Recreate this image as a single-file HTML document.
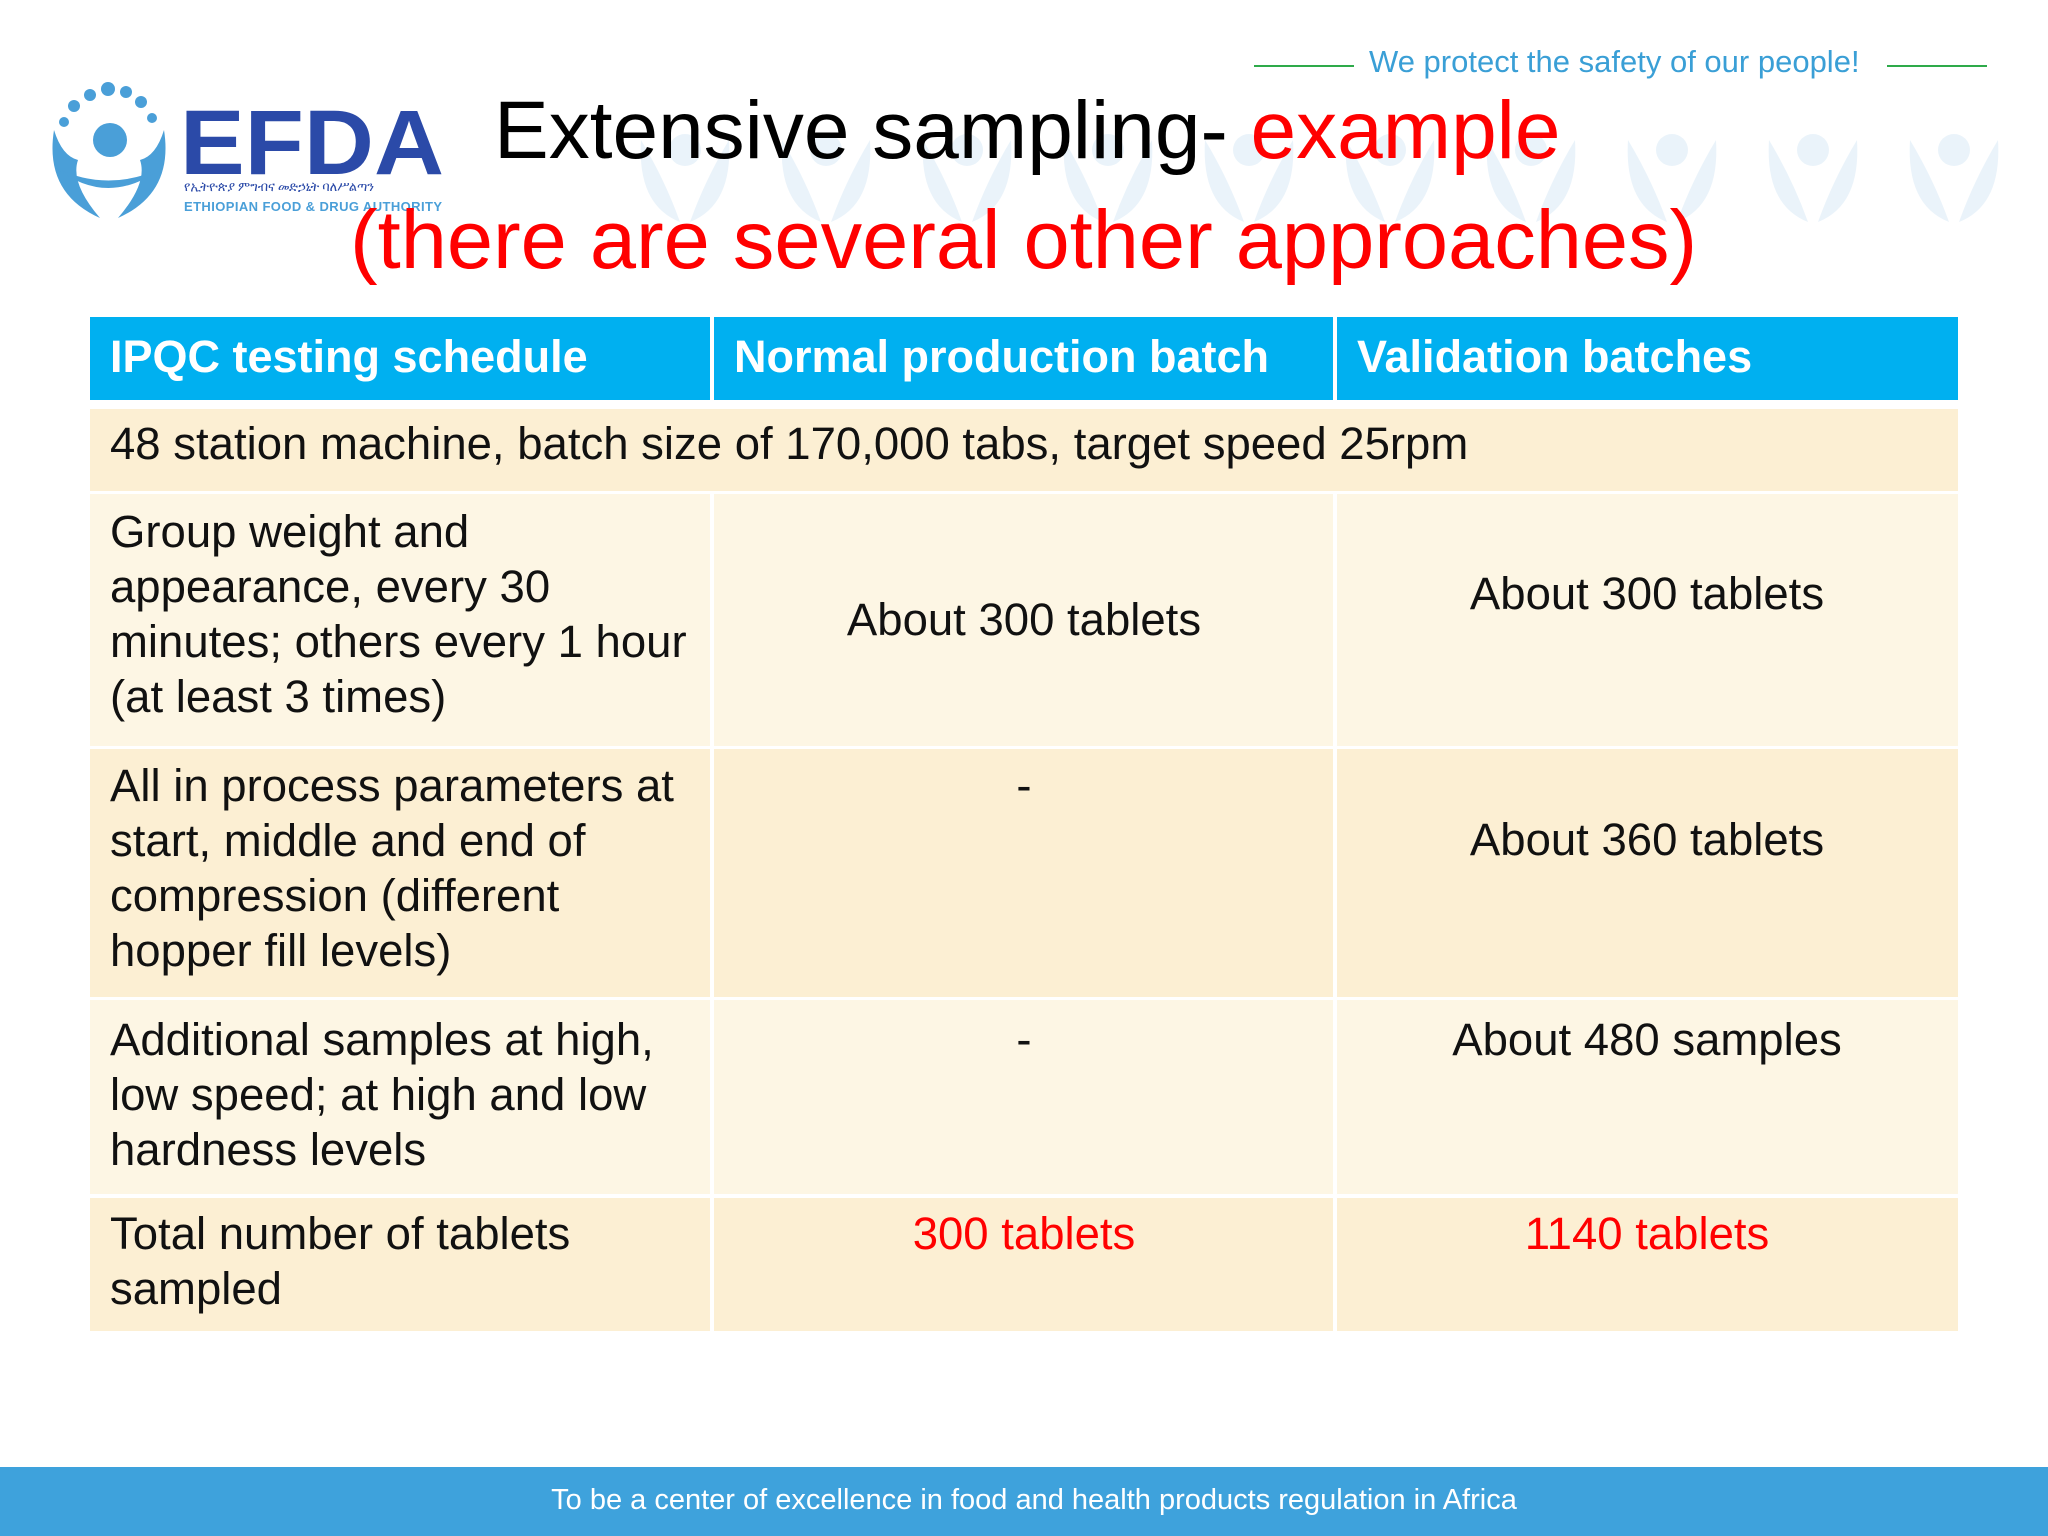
<!DOCTYPE html>
<html><head><meta charset="utf-8"><style>
body{margin:0;width:2048px;height:1536px;background:#fff;position:relative;overflow:hidden;font-family:"Liberation Sans",Arial,sans-serif}
.a{position:absolute;white-space:nowrap}
.t{font-size:45.5px;line-height:55px;color:#111}
.c{text-align:center;transform:translateX(-50%)}
.cell{position:absolute}
</style></head><body>
<div>
<svg class="a" style="left:620px;top:100px" width="1400" height="130">
<g fill="#3b8fd0" opacity="0.1">
<g transform="translate(65,0)"><circle cx="0" cy="50" r="16"/><path d="M-44 40 Q-48 105 -5 122 Q-20 80 -44 40Z"/><path d="M44 40 Q48 105 5 122 Q20 80 44 40Z"/></g>
<g transform="translate(206,0)"><circle cx="0" cy="50" r="16"/><path d="M-44 40 Q-48 105 -5 122 Q-20 80 -44 40Z"/><path d="M44 40 Q48 105 5 122 Q20 80 44 40Z"/></g>
<g transform="translate(347,0)"><circle cx="0" cy="50" r="16"/><path d="M-44 40 Q-48 105 -5 122 Q-20 80 -44 40Z"/><path d="M44 40 Q48 105 5 122 Q20 80 44 40Z"/></g>
<g transform="translate(488,0)"><circle cx="0" cy="50" r="16"/><path d="M-44 40 Q-48 105 -5 122 Q-20 80 -44 40Z"/><path d="M44 40 Q48 105 5 122 Q20 80 44 40Z"/></g>
<g transform="translate(629,0)"><circle cx="0" cy="50" r="16"/><path d="M-44 40 Q-48 105 -5 122 Q-20 80 -44 40Z"/><path d="M44 40 Q48 105 5 122 Q20 80 44 40Z"/></g>
<g transform="translate(770,0)"><circle cx="0" cy="50" r="16"/><path d="M-44 40 Q-48 105 -5 122 Q-20 80 -44 40Z"/><path d="M44 40 Q48 105 5 122 Q20 80 44 40Z"/></g>
<g transform="translate(911,0)"><circle cx="0" cy="50" r="16"/><path d="M-44 40 Q-48 105 -5 122 Q-20 80 -44 40Z"/><path d="M44 40 Q48 105 5 122 Q20 80 44 40Z"/></g>
<g transform="translate(1052,0)"><circle cx="0" cy="50" r="16"/><path d="M-44 40 Q-48 105 -5 122 Q-20 80 -44 40Z"/><path d="M44 40 Q48 105 5 122 Q20 80 44 40Z"/></g>
<g transform="translate(1193,0)"><circle cx="0" cy="50" r="16"/><path d="M-44 40 Q-48 105 -5 122 Q-20 80 -44 40Z"/><path d="M44 40 Q48 105 5 122 Q20 80 44 40Z"/></g>
<g transform="translate(1334,0)"><circle cx="0" cy="50" r="16"/><path d="M-44 40 Q-48 105 -5 122 Q-20 80 -44 40Z"/><path d="M44 40 Q48 105 5 122 Q20 80 44 40Z"/></g>
</g></svg>
</div>

<svg class="a" style="left:48px;top:78px" width="400" height="145">
<g fill="#4a9fd8">
<circle cx="16" cy="44" r="5"/><circle cx="26" cy="28" r="6"/><circle cx="42" cy="17" r="6"/><circle cx="60" cy="11" r="7"/><circle cx="78" cy="14" r="6"/><circle cx="93" cy="24" r="6"/><circle cx="104" cy="40" r="5"/>
<circle cx="62" cy="62" r="17"/>
<path d="M6 52 Q-4 115 52 140 Q22 105 30 82 Q14 78 6 52Z"/>
<path d="M116 52 Q126 115 70 140 Q100 105 92 82 Q108 78 116 52Z"/>
<path d="M8 90 Q60 115 114 90 Q60 130 8 90Z"/>
</g>
<text x="132" y="96" font-family="Liberation Sans" font-weight="bold" font-size="92" fill="#2b4aa8" textLength="264" lengthAdjust="spacingAndGlyphs">EFDA</text>
<text x="136" y="113" font-family="Noto Sans CJK SC, sans-serif" font-size="13" fill="#2b4aa8">የኢትዮጵያ ምግብና መድኃኒት ባለሥልጣን</text>
<text x="136" y="133" font-family="Liberation Sans" font-weight="bold" font-size="13" fill="#4a9fd8" textLength="258">ETHIOPIAN FOOD &amp; DRUG AUTHORITY</text>
</svg>

<div>
<div class="a" style="left:1254px;top:65px;width:100px;height:2px;background:#2eaa4a"></div>
<div class="a" style="left:1369px;top:44px;font-size:31px;color:#3a9fd6">We protect the safety of our people!</div>
<div class="a" style="left:1887px;top:65px;width:100px;height:2px;background:#2eaa4a"></div>
</div>

<div class="a" style="left:494px;top:84px;font-size:82px;color:#000">Extensive sampling- <span style="color:#ff0000">example</span></div>
<div class="a" style="left:350px;top:192px;font-size:83px;color:#ff0000">(there are several other approaches)</div>

<div>
<div class="cell" style="left:90px;top:317px;width:620px;height:83px;background:#00b0f0"></div>
<div class="cell" style="left:714px;top:317px;width:619px;height:83px;background:#00b0f0"></div>
<div class="cell" style="left:1337px;top:317px;width:621px;height:83px;background:#00b0f0"></div>
<div class="cell" style="left:90px;top:409px;width:1868px;height:82px;background:#fcefd3"></div>
<div class="cell" style="left:90px;top:494px;width:620px;height:252px;background:#fdf6e4"></div>
<div class="cell" style="left:714px;top:494px;width:619px;height:252px;background:#fdf6e4"></div>
<div class="cell" style="left:1337px;top:494px;width:621px;height:252px;background:#fdf6e4"></div>
<div class="cell" style="left:90px;top:749px;width:620px;height:248px;background:#fcefd3"></div>
<div class="cell" style="left:714px;top:749px;width:619px;height:248px;background:#fcefd3"></div>
<div class="cell" style="left:1337px;top:749px;width:621px;height:248px;background:#fcefd3"></div>
<div class="cell" style="left:90px;top:1000px;width:620px;height:194px;background:#fdf6e4"></div>
<div class="cell" style="left:714px;top:1000px;width:619px;height:194px;background:#fdf6e4"></div>
<div class="cell" style="left:1337px;top:1000px;width:621px;height:194px;background:#fdf6e4"></div>
<div class="cell" style="left:90px;top:1198px;width:620px;height:133px;background:#fcefd3"></div>
<div class="cell" style="left:714px;top:1198px;width:619px;height:133px;background:#fcefd3"></div>
<div class="cell" style="left:1337px;top:1198px;width:621px;height:133px;background:#fcefd3"></div>

<div class="a t" style="left:110px;top:329px;color:#fff;font-weight:bold;font-size:45px">IPQC testing schedule</div>
<div class="a t" style="left:734px;top:329px;color:#fff;font-weight:bold;font-size:45px">Normal production batch</div>
<div class="a t" style="left:1357px;top:329px;color:#fff;font-weight:bold;font-size:45px">Validation batches</div>

<div class="a t" style="left:110px;top:416px">48 station machine, batch size of 170,000 tabs, target speed 25rpm</div>

<div class="a t" style="left:110px;top:504px">Group weight and<br>appearance, every 30<br>minutes; others every 1 hour<br>(at least 3 times)</div>
<div class="a t c" style="left:1024px;top:592px">About 300 tablets</div>
<div class="a t c" style="left:1647px;top:566px">About 300 tablets</div>

<div class="a t" style="left:110px;top:758px">All in process parameters at<br>start, middle and end of<br>compression (different<br>hopper fill levels)</div>
<div class="a t c" style="left:1024px;top:758px">-</div>
<div class="a t c" style="left:1647px;top:812px">About 360 tablets</div>

<div class="a t" style="left:110px;top:1012px">Additional samples at high,<br>low speed; at high and low<br>hardness levels</div>
<div class="a t c" style="left:1024px;top:1012px">-</div>
<div class="a t c" style="left:1647px;top:1012px">About 480 samples</div>

<div class="a t" style="left:110px;top:1206px">Total number of tablets<br>sampled</div>
<div class="a t c" style="left:1024px;top:1206px;color:#ff0000">300 tablets</div>
<div class="a t c" style="left:1647px;top:1206px;color:#ff0000">1140 tablets</div>
</div>

<div class="a" style="left:0;top:1467px;width:2048px;height:69px;background:#3ea2dc"></div>
<div class="a c" style="left:1034px;top:1484px;font-size:29px;color:#fff">To be a center of excellence in food and health products regulation in Africa</div>
</body></html>
